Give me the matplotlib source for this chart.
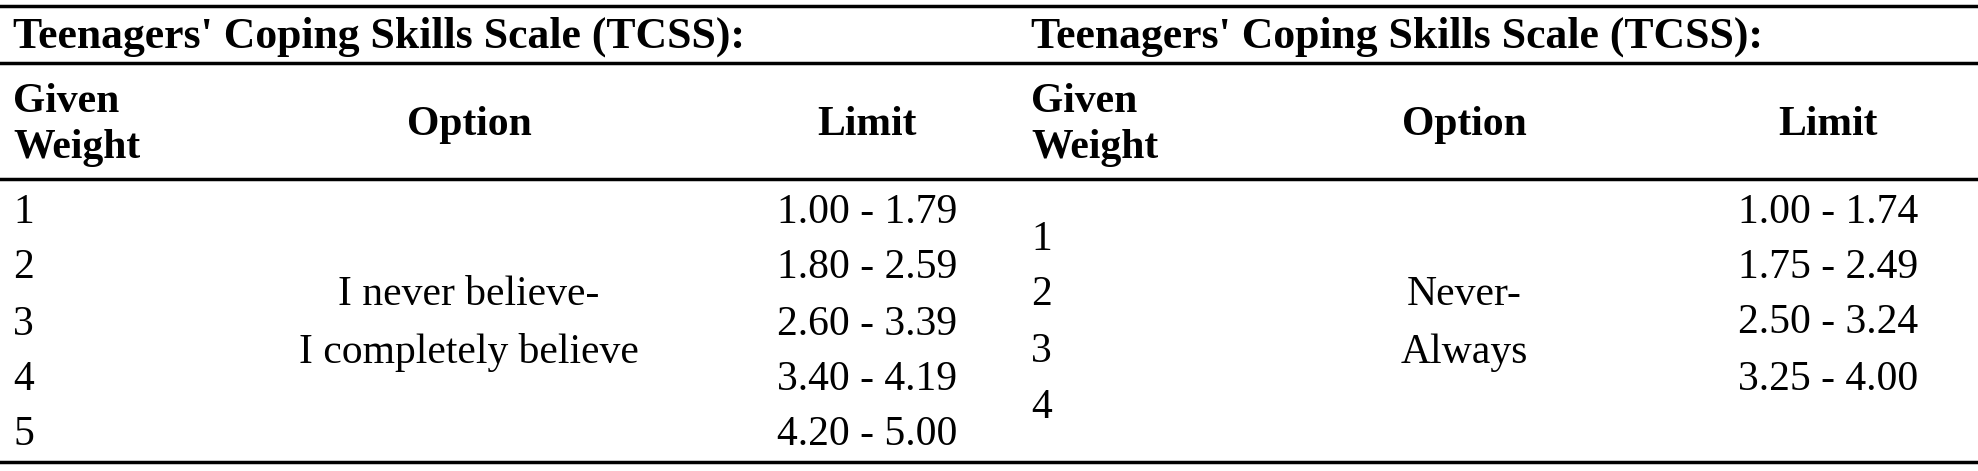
import matplotlib.pyplot as plt

title = "Teenagers' Coping Skills Scale (TCSS):"
headers = ["Given\nWeight", "Option", "Limit"]
left_weights = ["1", "2", "3", "4", "5"]
left_option = ["I never believe-", "I completely believe"]
left_limits = ["1.00 - 1.79", "1.80 - 2.59", "2.60 - 3.39", "3.40 - 4.19", "4.20 - 5.00"]
right_weights = ["1", "2", "3", "4"]
right_option = ["Never-", "Always"]
right_limits = ["1.00 - 1.74", "1.75 - 2.49", "2.50 - 3.24", "3.25 - 4.00"]

plt.rcParams['font.family'] = ['Liberation Serif', 'DejaVu Serif']
W, H = 1978, 471
fig = plt.figure(figsize=(W / 100, H / 100), dpi=100)
ax = fig.add_axes([0, 0, 1, 1])
ax.set_xlim(0, W)
ax.set_ylim(H, 0)
ax.axis('off')

fs = 30
for y in [6, 63, 179, 462]:
    ax.axhline(y, color='black', lw=2.5)

for x0, ox, lx in [(13, 469, 867), (1031, 1464, 1828)]:
    ax.text(x0, 37, title, fontsize=31.5, fontweight='bold', va='center', ha='left')
    ax.text(x0, 125, headers[0], fontsize=fs, fontweight='bold', va='center', ha='left',
            linespacing=1.25)
    ax.text(ox, 125, headers[1], fontsize=fs, fontweight='bold', va='center', ha='center')
    ax.text(lx, 125, headers[2], fontsize=fs, fontweight='bold', va='center', ha='center')

left_rows = [213, 268, 325, 380, 435]
for y, w, l in zip(left_rows, left_weights, left_limits):
    ax.text(13, y, w, fontsize=fs, va='center', ha='left')
    ax.text(867, y, l, fontsize=fs, va='center', ha='center')
for y, t in zip([295, 353], left_option):
    ax.text(469, y, t, fontsize=fs, va='center', ha='center')

for y, w in zip([240, 295, 352, 408], right_weights):
    ax.text(1031, y, w, fontsize=fs, va='center', ha='left')
for y, l in zip([213, 268, 323, 380], right_limits):
    ax.text(1828, y, l, fontsize=fs, va='center', ha='center')
for y, t in zip([295, 353], right_option):
    ax.text(1464, y, t, fontsize=fs, va='center', ha='center')

fig.savefig('out.png', dpi=100)
